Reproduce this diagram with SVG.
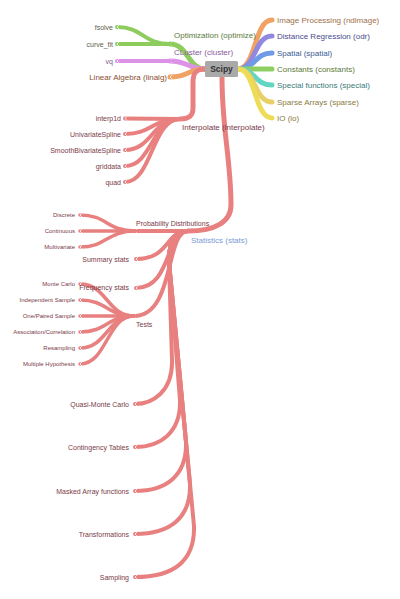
<svg xmlns="http://www.w3.org/2000/svg" width="400" height="599" viewBox="0 0 400 599">
<defs>
<marker id="chev" markerUnits="userSpaceOnUse" markerWidth="6" markerHeight="6" refX="0" refY="0" viewBox="-3 -3 6 6" orient="auto" overflow="visible">
<path d="M-1.6,-1.6 L0,0 L-1.6,1.6" fill="none" stroke="#fff" stroke-width="0.8"/>
</marker>
<style>
path{fill:none;stroke-linecap:round}
.l1{stroke-width:5}
.l2{stroke-width:4}
.l3{stroke-width:3.5}
.mk{marker-end:url(#chev)}
.red{stroke:#e88080}
text{font-family:"Liberation Sans",Arial,sans-serif}
.t8{font-size:8px}
.t7{font-size:7px}
.t6{font-size:6px}
.e{text-anchor:end}
.rt{fill:#7a3a48}
</style>
</defs>
<rect width="400" height="599" fill="#fff"/>
<g id="connectors">
<path class="l1" stroke="#f0a264" d="M238,69 C256,69 254,20 272,20"/>
<path class="l1" stroke="#9088e2" d="M238,69 C256,69 254,36 272,36"/>
<path class="l1" stroke="#6e9ae6" d="M238,69 C256,69 254,53 272,53"/>
<path class="l1" stroke="#8fcf62" d="M238,69 L272,69"/>
<path class="l1" stroke="#62d6c2" d="M238,69 C256,69 254,85 272,85"/>
<path class="l1" stroke="#e8d066" d="M238,69 C256,69 254,102 272,102"/>
<path class="l1" stroke="#eedc58" d="M238,69 C256,69 254,118 272,118"/>
<path class="l1 mk" stroke="#8fcc5e" d="M205,69 C188,69 188,44 170,44"/>
<path class="l1 mk" stroke="#dc92e6" d="M205,69 C188,69 188,61 170,61"/>
<path class="l1 mk" stroke="#f0a264" d="M205,69 C188,69 188,77 170,77"/>
<path class="l1 mk red" d="M205,69 C196,69 193,73 193,82 L193,108 C193,116 189,119 180,119"/>
<path class="l1 mk red" d="M222,77 C222,130 231,160 231,205 C231,222 215,231 188,231"/>
<path class="l2 mk" stroke="#8fcc5e" d="M170,44 C143,44 143,27 117,27"/>
<path class="l2 mk" stroke="#8fcc5e" d="M170,44 L117,44"/>
<path class="l2 mk" stroke="#dc92e6" d="M170,61 L117,61"/>
<path class="l2 mk red" d="M180,119 L125,118.5"/>
<path class="l2 mk red" d="M180,119 C152,119 152,134 125,134"/>
<path class="l2 mk red" d="M180,119 C152,119 152,150 125,150"/>
<path class="l2 mk red" d="M180,119 C152,119 152,166 125,166"/>
<path class="l2 mk red" d="M180,119 C152,119 152,182 125,182"/>
<path class="l2 mk red" d="M188,231 L135,231"/>
<path class="l2 mk red" d="M188,231 C165,231 170,259 136,259"/>
<path class="l2 mk red" d="M188,231 C165,231 172,288 136,288"/>
<path class="l2 mk red" d="M188,231 C165,231 175,316 134,316"/>
<path class="l2 mk red" d="M188,231 C172,231 169,245 169,262 L172,360 C173,392 152,404 135,404"/>
<path class="l2 mk red" d="M188,231 C172,231 169,245 169,262 L180,400 C181,433 160,447 135,447"/>
<path class="l2 mk red" d="M188,231 C172,231 169,245 169,262 L186,442 C187,476 166,491 135,491"/>
<path class="l2 mk red" d="M188,231 C172,231 169,245 169,262 L190,484 C191,518 170,534 135,534"/>
<path class="l2 mk red" d="M188,231 C172,231 169,245 169,262 L194,526 C195,561 174,577 135,577"/>
<path class="l3 mk red" d="M135,231 C107,231 107,215 80,215"/>
<path class="l3 mk red" d="M135,231 L80,231"/>
<path class="l3 mk red" d="M135,231 C107,231 107,247 80,247"/>
<path class="l3 mk red" d="M134,316 C107,316 107,284 80,284"/>
<path class="l3 mk red" d="M134,316 C107,316 107,300 80,300"/>
<path class="l3 mk red" d="M134,316 L80,316"/>
<path class="l3 mk red" d="M134,316 C107,316 107,332 80,332"/>
<path class="l3 mk red" d="M134,316 C107,316 107,348 80,348"/>
<path class="l3 mk red" d="M134,316 C107,316 107,364 80,364"/>
</g>
<g id="root">
<rect x="205" y="61" width="33" height="16" rx="1.5" fill="#a9a9a9"/>
<text x="221.5" y="72" font-size="8.5" font-weight="bold" text-anchor="middle" fill="#333">Scipy</text>
</g>
<g id="ndimage"><text class="t8" x="277" y="22.8" fill="#a0704a">Image Processing (ndimage)</text></g>
<g id="odr"><text class="t8" x="277" y="38.8" fill="#4a4a8e">Distance Regression (odr)</text></g>
<g id="spatial"><text class="t8" x="277" y="55.5" fill="#3a5a92">Spatial (spatial)</text></g>
<g id="constants"><text class="t8" x="277" y="72" fill="#5a7a3a">Constants (constants)</text></g>
<g id="special"><text class="t8" x="277" y="87.8" fill="#3a7a7a">Special functions (special)</text></g>
<g id="sparse"><text class="t8" x="277" y="104.5" fill="#8a7a3e">Sparse Arrays (sparse)</text></g>
<g id="io"><text class="t8" x="277" y="120.5" fill="#8a7a3e">IO (io)</text></g>
<g id="optimize"><text class="t8" x="174" y="37.8" fill="#5a7a3a">Optimization (optimize)</text></g>
<g id="fsolve"><text class="t7 e" x="113" y="29.5" fill="#5e6050">fsolve</text></g>
<g id="curve_fit"><text class="t7 e" x="113" y="46.5" fill="#5e6050">curve_fit</text></g>
<g id="cluster"><text class="t8" x="174" y="54.8" fill="#8a5aa0">CLuster (cluster)</text></g>
<g id="vq"><text class="t7 e" x="113" y="63.5" fill="#7a5a8a">vq</text></g>
<g id="linalg"><text class="t8 e" x="167" y="79.8" fill="#8a5030">Linear Algebra (linalg)</text></g>
<g id="interpolate"><text class="t8 rt" x="182" y="130">Interpolate (interpolate)</text></g>
<g id="interp1d"><text class="t7 e rt" x="121" y="121">interp1d</text></g>
<g id="univariatespline"><text class="t7 e rt" x="121" y="136.5">UnivariateSpline</text></g>
<g id="smoothbivariatespline"><text class="t7 e rt" x="121" y="152.5">SmoothBivariateSpline</text></g>
<g id="griddata"><text class="t7 e rt" x="121" y="168.5">griddata</text></g>
<g id="quad"><text class="t7 e rt" x="121" y="184.5">quad</text></g>
<g id="stats"><text class="t8" x="191" y="243" fill="#7a9ad8">Statistics (stats)</text></g>
<g id="probability"><text class="t7 rt" x="136" y="225.5">Probability Distributions</text></g>
<g id="discrete"><text class="t6 e rt" x="75" y="217">Discrete</text></g>
<g id="continuous"><text class="t6 e rt" x="75" y="233">Continuous</text></g>
<g id="multivariate"><text class="t6 e rt" x="75" y="249">Multivariate</text></g>
<g id="summary"><text class="t7 e rt" x="129" y="261.5">Summary stats</text></g>
<g id="frequency"><text class="t7 e rt" x="129" y="290">Frequency stats</text></g>
<g id="tests"><text class="t7 rt" x="136" y="326.5">Tests</text></g>
<g id="montecarlo"><text class="t6 e rt" x="75" y="286">Monte Carlo</text></g>
<g id="independent"><text class="t6 e rt" x="75" y="302">Independent Sample</text></g>
<g id="paired"><text class="t6 e rt" x="75" y="318">One/Paired Sample</text></g>
<g id="association"><text class="t6 e rt" x="75" y="334">Association/Correlation</text></g>
<g id="resampling"><text class="t6 e rt" x="75" y="350">Resampling</text></g>
<g id="multiple"><text class="t6 e rt" x="75" y="366">Multiple Hypothesis</text></g>
<g id="qmc"><text class="t7 e rt" x="129" y="406.5">Quasi-Monte Carlo</text></g>
<g id="contingency"><text class="t7 e rt" x="129" y="449.5">Contingency Tables</text></g>
<g id="masked"><text class="t7 e rt" x="129" y="493.5">Masked Array functions</text></g>
<g id="transformations"><text class="t7 e rt" x="129" y="536.5">Transformations</text></g>
<g id="sampling"><text class="t7 e rt" x="129" y="579.5">Sampling</text></g>
</svg>
